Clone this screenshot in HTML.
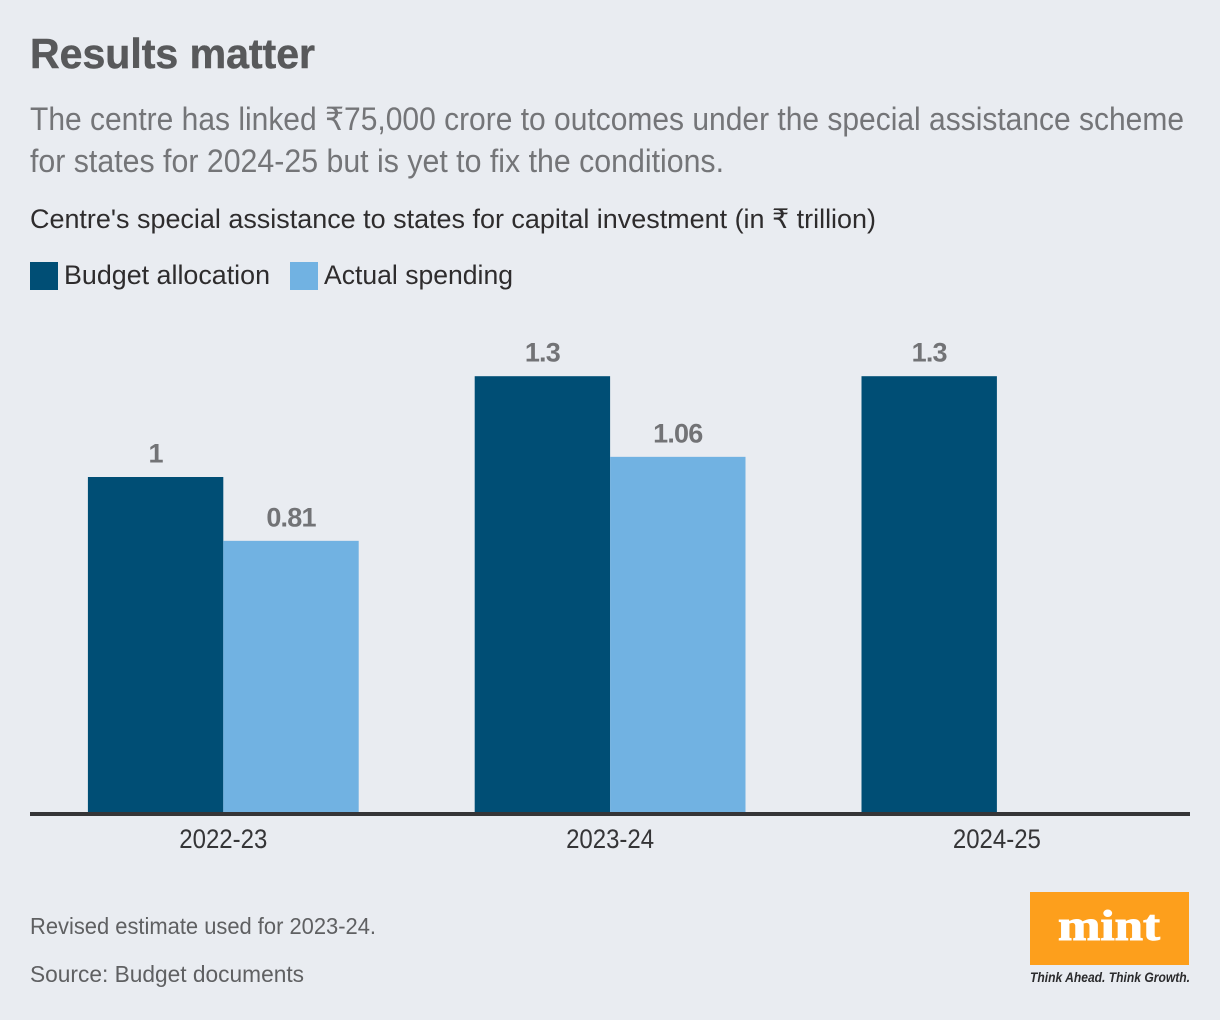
<!DOCTYPE html>
<html>
<head>
<meta charset="utf-8">
<style>
html,body{margin:0;padding:0;background:#e9ecf1}
svg{display:block}
text{font-family:"Liberation Sans","DejaVu Sans",sans-serif}
</style>
</head>
<body>
<svg id="chart" width="1220" height="1020" viewBox="0 0 1220 1020" xmlns="http://www.w3.org/2000/svg">
<rect x="0" y="0" width="1220" height="1020" fill="#e9ecf1"/>
<text x="30" y="68" font-size="42" font-weight="700" fill="#58595b" stroke="#58595b" stroke-width="0.5" textLength="285" lengthAdjust="spacingAndGlyphs">Results matter</text>
<text x="30" y="130" font-size="32" fill="#747578" textLength="1154" lengthAdjust="spacingAndGlyphs">The centre has linked ₹75,000 crore to outcomes under the special assistance scheme</text>
<text x="30" y="172" font-size="32" fill="#747578" textLength="694" lengthAdjust="spacingAndGlyphs">for states for 2024-25 but is yet to fix the conditions.</text>
<text x="30" y="228" font-size="27" fill="#2e2c2d" textLength="846" lengthAdjust="spacingAndGlyphs">Centre's special assistance to states for capital investment (in ₹ trillion)</text>
<rect x="30" y="262" width="28" height="28" fill="#004e75"/>
<text x="64" y="284" font-size="27" fill="#2e2c2d" textLength="206" lengthAdjust="spacingAndGlyphs">Budget allocation</text>
<rect x="290" y="262" width="28" height="28" fill="#71b2e2"/>
<text x="324" y="284" font-size="27" fill="#2e2c2d" textLength="189" lengthAdjust="spacingAndGlyphs">Actual spending</text>
<g id="bars"></g>
<rect x="30" y="812" width="1160" height="4" fill="#353537"/>
<g id="ticks"></g>
<text x="30" y="934" font-size="23" fill="#5f6062" textLength="346" lengthAdjust="spacingAndGlyphs">Revised estimate used for 2023-24.</text>
<text x="30" y="982" font-size="23" fill="#5f6062" textLength="274" lengthAdjust="spacingAndGlyphs">Source: Budget documents</text>
<g>
<rect x="1030" y="892" width="159" height="73" fill="#fd9f1c"/>
<text x="1109" y="940" font-size="43" font-weight="700" fill="#ffffff" text-anchor="middle" textLength="102" lengthAdjust="spacingAndGlyphs" style="font-family:'Liberation Serif',serif" stroke="#ffffff" stroke-width="1">mint</text>
<text x="1030" y="982" font-size="14" font-weight="700" font-style="italic" fill="#2b2b2d" textLength="160" lengthAdjust="spacingAndGlyphs">Think Ahead. Think Growth.</text>
</g>
</svg>
<script>
const categories = ['2022-23', '2023-24', '2024-25'];
const budgetValues = [1, 1.3, 1.3];
const actualValues = [0.81, 1.06, null];
const budgetLabels = ['1', '1.3', '1.3'];
const actualLabels = ['0.81', '1.06', ''];

const NS = 'http://www.w3.org/2000/svg';
const baseY = 813;
const unitPx = 336;
const firstCenter = 223.3;
const groupStep = 386.8;
const barW = 135.4;

function xCenter(i) { return firstCenter + i * groupStep; }
function yPos(v) { return baseY - v * unitPx; }

const barsG = document.getElementById('bars');
const ticksG = document.getElementById('ticks');

function drawBar(v, x, fill, name) {
  const r = document.createElementNS(NS, 'rect');
  r.setAttribute('x', x);
  r.setAttribute('y', yPos(v));
  r.setAttribute('width', barW);
  r.setAttribute('height', baseY - yPos(v));
  r.setAttribute('fill', fill);
  
  
  barsG.appendChild(r);
}

function drawValue(label, cx, v, name) {
  const t = document.createElementNS(NS, 'text');
  t.setAttribute('x', cx);
  t.setAttribute('y', yPos(v) - 14.5);
  t.setAttribute('text-anchor', 'middle');
  t.setAttribute('font-size', '27');
  t.setAttribute('font-weight', '700');
  t.setAttribute('letter-spacing', '-0.8');
  t.setAttribute('fill', '#727376');
  
  
  t.textContent = label;
  barsG.appendChild(t);
}

categories.forEach(function (cat, i) {
  const c = xCenter(i);
  drawBar(budgetValues[i], c - barW, '#004e75', 'bar-budget-' + cat);
  drawValue(budgetLabels[i], c - barW / 2, budgetValues[i], 'value-budget-' + cat);
  if (actualValues[i] !== null) {
    drawBar(actualValues[i], c, '#71b2e2', 'bar-actual-' + cat);
    drawValue(actualLabels[i], c + barW / 2, actualValues[i], 'value-actual-' + cat);
  }
  const t = document.createElementNS(NS, 'text');
  t.setAttribute('x', c);
  t.setAttribute('y', 848);
  t.setAttribute('text-anchor', 'middle');
  t.setAttribute('font-size', '27');
  t.setAttribute('fill', '#353537');
  t.setAttribute('textLength', '88');
  t.setAttribute('lengthAdjust', 'spacingAndGlyphs');
  
  
  t.textContent = cat;
  ticksG.appendChild(t);
});
</script>
</body>
</html>
